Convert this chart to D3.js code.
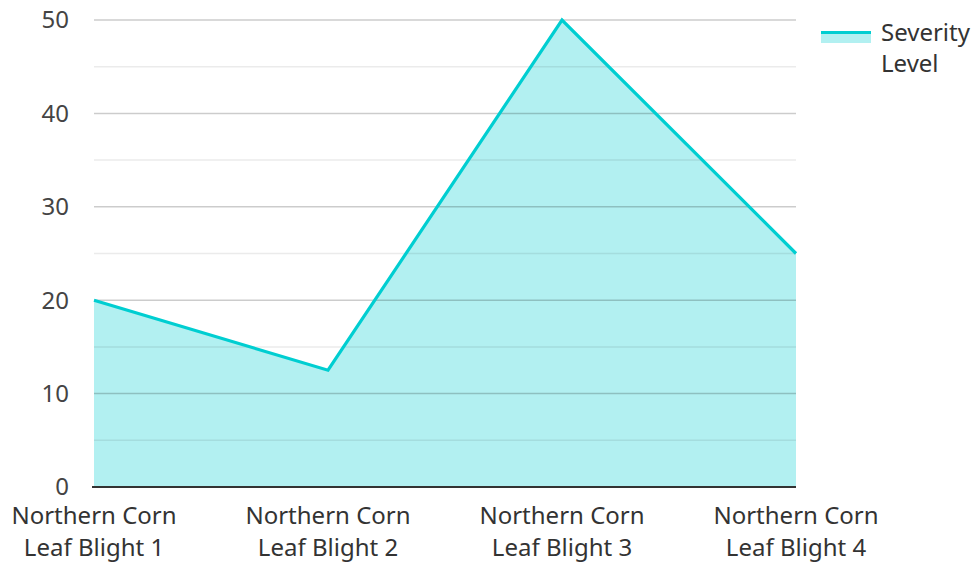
<!DOCTYPE html>
<html>
<head>
<meta charset="utf-8">
<script src="https://cdn.jsdelivr.net/npm/d3@7"></script>
<style>
  html, body { margin: 0; padding: 0; background: #fff; }
  svg { display: block; font-family: "Noto Sans", "Open Sans", sans-serif; }
</style>
</head>
<body>
<svg id="chart" width="977" height="562"></svg>
<script>
const categories = ["Northern Corn Leaf Blight 1", "Northern Corn Leaf Blight 2", "Northern Corn Leaf Blight 3", "Northern Corn Leaf Blight 4"];
const severity = [20, 12.5, 50, 25];
const yTicks = [0, 10, 20, 30, 40, 50];
const minorTicks = [5, 15, 25, 35, 45];
const seriesName = "Severity Level";

const svg = d3.select("#chart");
const mLeft = 94, mRight = 796, mTop = 20, mBottom = 487;
const fs = 24;

const x = d3.scalePoint().domain(categories).range([mLeft, mRight]);
const y = d3.scaleLinear().domain([0, 50]).range([mBottom, mTop]);

const data = categories.map((c, i) => ({ c, v: severity[i] }));

// area
svg.append("path")
  .datum(data)
  .attr("d", d3.area().x(d => x(d.c)).y0(y(0)).y1(d => y(d.v)))
  .attr("fill", "rgba(0,206,209,0.3)");

// gridlines on top of area
svg.append("g").selectAll("line").data(minorTicks).join("line")
  .attr("x1", mLeft).attr("x2", mRight)
  .attr("y1", d => y(d)).attr("y2", d => y(d))
  .attr("stroke", "rgba(0,0,0,0.08)").attr("stroke-width", 1.5);
svg.append("g").selectAll("line").data(yTicks.filter(t => t > 0)).join("line")
  .attr("x1", mLeft).attr("x2", mRight)
  .attr("y1", d => y(d)).attr("y2", d => y(d))
  .attr("stroke", "rgba(0,0,0,0.2)").attr("stroke-width", 1.5);

// line
svg.append("path")
  .datum(data)
  .attr("d", d3.line().x(d => x(d.c)).y(d => y(d.v)))
  .attr("fill", "none")
  .attr("stroke", "#00CED1")
  .attr("stroke-width", 3.2)
  .attr("stroke-linejoin", "miter");

// baseline
svg.append("line")
  .attr("x1", mLeft - 2).attr("x2", mRight)
  .attr("y1", y(0)).attr("y2", y(0))
  .attr("stroke", "#333").attr("stroke-width", 2);

// y labels
svg.append("g").selectAll("text").data(yTicks).join("text")
  .attr("x", 69).attr("y", d => y(d))
  .attr("dy", "0.35em")
  .attr("text-anchor", "end")
  .attr("font-size", fs)
  .attr("fill", "#444")
  .text(d => d);

// x labels (two lines)
const xl = svg.append("g").selectAll("text").data(categories).join("text")
  .attr("x", d => x(d))
  .attr("text-anchor", "middle")
  .attr("font-size", fs)
  .attr("fill", "#333");
xl.append("tspan").attr("x", d => x(d)).attr("y", 524).text(d => d.split(" ").slice(0, 2).join(" "));
xl.append("tspan").attr("x", d => x(d)).attr("y", 556).text(d => d.split(" ").slice(2).join(" "));

// legend
const lg = svg.append("g");
lg.append("rect").attr("x", 821).attr("y", 31).attr("width", 50).attr("height", 12)
  .attr("fill", "rgba(0,206,209,0.3)");
lg.append("line").attr("x1", 821).attr("x2", 871).attr("y1", 32.5).attr("y2", 32.5)
  .attr("stroke", "#00CED1").attr("stroke-width", 3);
const lt = lg.append("text").attr("font-size", fs).attr("fill", "#333");
const parts = seriesName.split(" ");
lt.append("tspan").attr("x", 881).attr("y", 41).text(parts[0]);
lt.append("tspan").attr("x", 881).attr("y", 72).text(parts[1]);
</script>
</body>
</html>
